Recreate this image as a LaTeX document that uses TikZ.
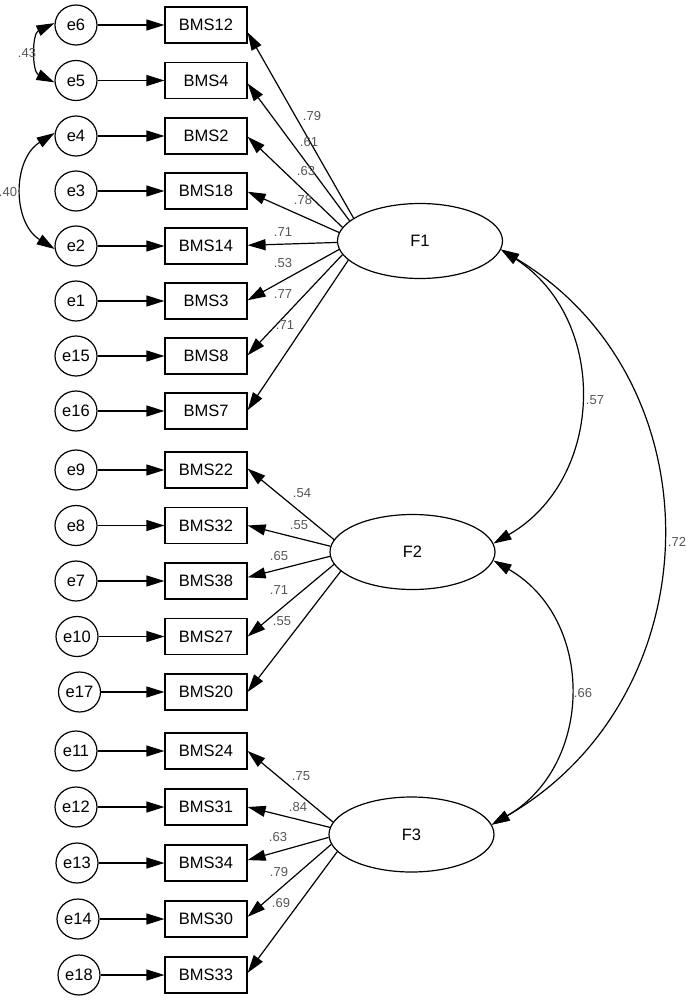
\documentclass[tikz,border=0pt]{standalone}
\usepackage{fontspec}
\setmainfont{Liberation Sans}
\usetikzlibrary{arrows.meta,shapes.geometric}
\definecolor{lab}{RGB}{85,85,85}
\begin{document}
\begin{tikzpicture}[x=1pt,y=1pt,
  arr/.style={-{Triangle[length=18pt,width=11pt]}, line width=1.2pt},
  darr/.style={{Triangle[length=18pt,width=11pt]}-{Triangle[length=18pt,width=11pt]}, line width=1.2pt},
  err/.style={draw, ellipse, minimum width=42pt, minimum height=40pt, inner sep=0pt, line width=1.2pt, font=\fontsize{16.5}{18}\selectfont},
  obs/.style={draw, rectangle, minimum width=82pt, minimum height=36pt, inner sep=0pt, line width=1.2pt, font=\fontsize{16.5}{18}\selectfont},
  lat/.style={draw, ellipse, minimum width=165pt, minimum height=75pt, inner sep=0pt, line width=1.2pt, font=\fontsize{16.5}{18}\selectfont},
  lbl/.style={text=lab, font=\fontsize{13}{14}\selectfont, inner sep=0pt}]
\useasboundingbox (0,0) rectangle (685,-1000);

% latent factors
\node[lat] (F1) at (420,-241) {F1};
\node[lat] (F2) at (412.5,-552) {F2};
\node[lat] (F3) at (411.5,-834.5) {F3};

% error terms and indicators
\foreach \e/\b/\y/\ex in {
  e6/BMS12/25/76, e5/BMS4/80.5/76, e4/BMS2/136/76, e3/BMS18/191/76,
  e2/BMS14/246/76, e1/BMS3/301/76, e15/BMS8/356/76, e16/BMS7/411/76,
  e9/BMS22/470/76, e8/BMS32/525.5/76, e7/BMS38/581/76, e10/BMS27/636.5/77, e17/BMS20/692/79.5,
  e11/BMS24/751/76, e12/BMS31/807/76, e13/BMS34/863/77, e14/BMS30/919/78, e18/BMS33/975/79}{
  \node[err] (\e) at (\ex,-\y) {\e};
  \node[obs] (\b) at (206,-\y) {\b};
  \draw[arr] (\e) -- (\b);
}

% loadings F1
\foreach \b/\a/\t/\v/\lx/\ly in {
  BMS12/161/-10/.79/312/116, BMS4/164/-4/.61/309/142, BMS2/170/-1/.63/306/171,
  BMS18/174/-1/.78/303/200, BMS14/181/1/.71/283/232, BMS3/186/1/.53/283/263,
  BMS8/190/1/.77/283/294, BMS7/195/1/.71/285/325}{
  \draw[arr] (F1.\a) -- (\b.\t);
  \node[lbl] (l\b) at (\lx,-\ly) {\v};
}
% loadings F2
\foreach \b/\a/\t/\v/\lx/\ly in {
  BMS22/171/2/.54/302/493, BMS32/176/0/.55/299/525, BMS38/183/5/.65/279/556,
  BMS27/189/0/.71/279/590, BMS20/195/0/.55/282/621}{
  \draw[arr] (F2.\a) -- (\b.\t);
  \node[lbl] (l\b) at (\lx,-\ly) {\v};
}
% loadings F3
\foreach \b/\a/\t/\v/\lx/\ly in {
  BMS24/171/0/.75/301/776, BMS31/175/0/.84/298/807, BMS34/182/4/.63/278/837,
  BMS30/187/3/.79/279/872, BMS33/193/3/.69/281/903}{
  \draw[arr] (F3.\a) -- (\b.\t);
  \node[lbl] (l\b) at (\lx,-\ly) {\v};
}

% factor covariances
\draw[darr] (F1.-6) to[out=-33,in=30,distance=129pt] (F2.6);
\draw[darr] (F1.-6) to[out=-31,in=30,distance=256pt] (F3.7);
\draw[darr] (F2.-6) to[out=-30,in=30,distance=118pt] (F3.7);
\node[lbl] (c12) at (595,-400) {.57};
\node[lbl] (c13) at (677,-542) {.72};
\node[lbl] (c23) at (583,-693) {.66};

% error covariances
\draw[darr] (e6.175) to[out=205,in=155,distance=25pt] (e5.185);
\draw[darr] (e4.172) to[out=212,in=148,distance=50pt] (e2.188);
\node[lbl] (c65) at (27,-53) {.43};
\node[lbl] (c42) at (8,-192) {.40};
\end{tikzpicture}
\end{document}
